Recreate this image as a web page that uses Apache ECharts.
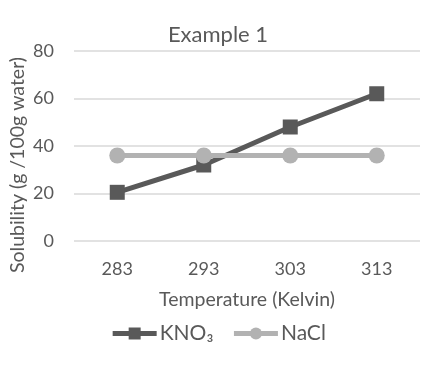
<!DOCTYPE html>
<html><head><meta charset="utf-8">
<script src="https://cdn.jsdelivr.net/npm/echarts@6/dist/echarts.min.js"></script>
<style>html,body{margin:0;padding:0;background:#fff}#c{width:436px;height:368px}</style>
</head><body><div id="c"></div>
<script>
const categories = ['283', '293', '303', '313'];
const kno3 = [20.5, 32, 48, 62];
const nacl = [36, 36, 36, 36];
const yTicks = [0, 20, 40, 60, 80];
const yName = 'Solubility (g /100g water)';

const FONT = 'Lato, sans-serif';
const chart = echarts.init(document.getElementById('c'));
chart.setOption({
  animation: false,
  backgroundColor: '#fff',
  title: {
    text: 'Example 1', left: 'center', top: 19,
    textStyle: { fontFamily: FONT, fontSize: 22, fontWeight: 'normal', color: '#595959' }
  },
  legend: {
    bottom: 19, left: 'center', itemWidth: 44, itemHeight: 15, itemGap: 18,
    lineStyle: { width: 5 },
    textStyle: { fontFamily: FONT, fontSize: 21, color: '#595959', padding: [0, 0, 0, -2] },
    data: ['KNO₃', 'NaCl']
  },
  grid: { left: 74, right: 16, top: 51, bottom: 127 },
  xAxis: {
    type: 'category', data: categories,
    name: 'Temperature (Kelvin)', nameLocation: 'middle', nameGap: 49,
    nameTextStyle: { fontFamily: FONT, fontSize: 19.5, color: '#595959' },
    axisLine: { show: false }, axisTick: { show: false },
    axisLabel: { fontFamily: FONT, fontSize: 18, color: '#595959', margin: 19 }
  },
  yAxis: {
    type: 'value', min: yTicks[0], max: yTicks[yTicks.length - 1], interval: 20,
    axisLine: { show: false }, axisTick: { show: false },
    axisLabel: { fontFamily: FONT, fontSize: 18, color: '#595959', margin: 20 },
    splitLine: { lineStyle: { color: '#d9d9d9', width: 1.5 } }
  },
  graphic: [{
    type: 'text', x: 18, y: 165, rotation: Math.PI / 2,
    style: { text: yName, fontFamily: FONT, fontSize: 19.5, fill: '#595959', align: 'center', verticalAlign: 'middle' }
  }],
  series: [
    {
      name: 'KNO₃', type: 'line', data: kno3,
      symbol: 'rect', symbolSize: 15,
      lineStyle: { color: '#595959', width: 5 },
      itemStyle: { color: '#595959' }
    },
    {
      name: 'NaCl', type: 'line', data: nacl,
      symbol: 'circle', symbolSize: 16,
      lineStyle: { color: '#b2b2b2', width: 5 },
      itemStyle: { color: '#b2b2b2' }
    }
  ]
});
</script></body></html>
